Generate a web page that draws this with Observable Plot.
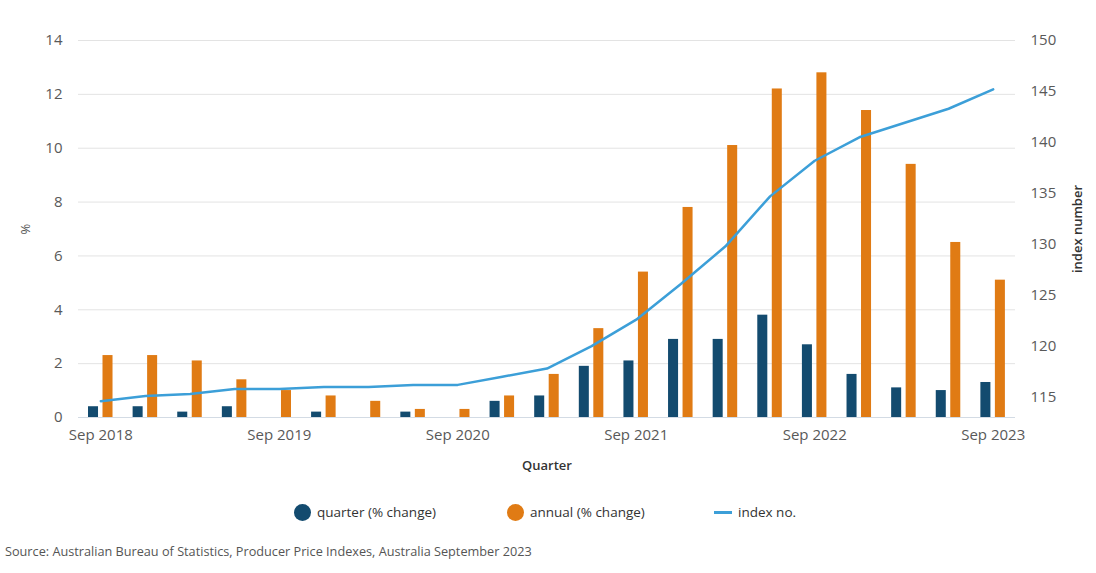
<!DOCTYPE html>
<html><head><meta charset="utf-8">
<script src="https://cdn.jsdelivr.net/npm/d3@7"></script>
<script src="https://cdn.jsdelivr.net/npm/@observablehq/plot@0.6"></script>
<style>
body{margin:0;background:#fff;font-family:"Open Sans",sans-serif;}
#chart{position:relative;width:1096px;height:573px;overflow:hidden;}
#chart svg{position:absolute;left:0;top:0;}
.item{position:absolute;top:503px;height:18px;display:flex;align-items:center;font-size:13.5px;color:#333;white-space:nowrap;}
.dot{width:17px;height:17px;border-radius:50%;margin-right:6px;}
.ln{width:18px;height:3px;margin-right:6px;}
.source{position:absolute;left:5px;top:542px;font-size:12.7px;color:#555;white-space:nowrap;}
</style></head><body>
<div id="chart"></div>
<script>
const quarters = ["Sep 2018","Dec 2018","Mar 2019","Jun 2019","Sep 2019","Dec 2019","Mar 2020","Jun 2020","Sep 2020","Dec 2020","Mar 2021","Jun 2021","Sep 2021","Dec 2021","Mar 2022","Jun 2022","Sep 2022","Dec 2022","Mar 2023","Jun 2023","Sep 2023"];
const quarterly = [0.4,0.4,0.2,0.4,0.0,0.2,0.0,0.2,0.0,0.6,0.8,1.9,2.1,2.9,2.9,3.8,2.7,1.6,1.1,1.0,1.3];
const annual = [2.3,2.3,2.1,1.4,1.0,0.8,0.6,0.3,0.3,0.8,1.6,3.3,5.4,7.8,10.1,12.2,12.8,11.4,9.4,6.5,5.1];
const indexNo = [114.6,115.1,115.3,115.8,115.8,116.0,116.0,116.2,116.2,117.0,117.8,120.0,122.6,126.1,129.8,134.7,138.2,140.5,141.9,143.3,145.2];
const xTicks = ["Sep 2018","Sep 2019","Sep 2020","Sep 2021","Sep 2022","Sep 2023"];
const pctTicks = [0,2,4,6,8,10,12,14];
const indexTicks = [115,120,125,130,135,140,145,150];
const pctDomain = [0,14];
const indexDomain = [113,150];

const toPct = d3.scaleLinear(indexDomain, pctDomain);
const rows = quarters.map((q,i)=>({q, quarterly:quarterly[i], annual:annual[i], index:indexNo[i]}));

const navy = "#134b6f", orange = "#e07b14", blue = "#3c9fd8";

const plot = Plot.plot({
  width:1096, height:480,
  marginLeft:78, marginRight:81, marginTop:40, marginBottom:63,
  style:{fontFamily:"Open Sans, sans-serif", fontSize:"15px", color:"#595959", background:"transparent", overflow:"visible"},
  x:{type:"band", domain:quarters, padding:0, round:false, axis:null},
  y:{domain:pctDomain, axis:null},
  marks:[
    Plot.gridY(pctTicks.slice(1), {stroke:"#e3e3e3", strokeOpacity:1, strokeWidth:1}),
    Plot.ruleY([0], {stroke:"#d3dbe4", strokeWidth:1.2}),
    Plot.barY(rows, {x:"q", y:"quarterly", fill:navy, insetLeft:10, insetRight:24.6}),
    Plot.barY(rows, {x:"q", y:"annual", fill:orange, insetLeft:24.5, insetRight:10.1}),
    Plot.line(rows, {x:"q", y:d=>toPct(d.index), stroke:blue, strokeWidth:2.5}),
    Plot.axisX(xTicks, {anchor:"bottom", tickSize:0, tickPadding:12, label:null, fontSize:15}),
    Plot.axisY(pctTicks, {anchor:"left", tickSize:0, tickPadding:16, label:null, fontSize:15}),
    Plot.axisY(indexTicks, {anchor:"right", y:toPct, tickFormat:d=>String(d), tickSize:0, tickPadding:15, label:null, fontSize:15}),
    Plot.text(["Quarter"], {frameAnchor:"bottom", dy:52, fontWeight:600, fill:"#333", fontSize:13}),
    Plot.text(["%"], {frameAnchor:"left", dx:-53, rotate:-90, textAnchor:"middle", fill:"#555", fontSize:13}),
    Plot.text(["index number"], {frameAnchor:"right", dx:62, rotate:-90, textAnchor:"middle", fontWeight:600, fill:"#333", fontSize:13})
  ]
});
const chart = document.getElementById("chart");
chart.appendChild(plot);

const legend = [
  {label:"quarter (% change)", color:navy, kind:"dot", left:294},
  {label:"annual (% change)", color:orange, kind:"dot", left:507},
  {label:"index no.", color:blue, kind:"ln", left:714}
];
for (const l of legend) {
  const d = document.createElement("div");
  d.className = "item";
  d.style.left = l.left + "px";
  const s = document.createElement("span");
  s.className = l.kind;
  s.style.background = l.color;
  d.appendChild(s);
  d.appendChild(document.createTextNode(l.label));
  chart.appendChild(d);
}
const src = document.createElement("div");
src.className = "source";
src.textContent = "Source: Australian Bureau of Statistics, Producer Price Indexes, Australia September 2023";
chart.appendChild(src);
</script>
</body></html>
